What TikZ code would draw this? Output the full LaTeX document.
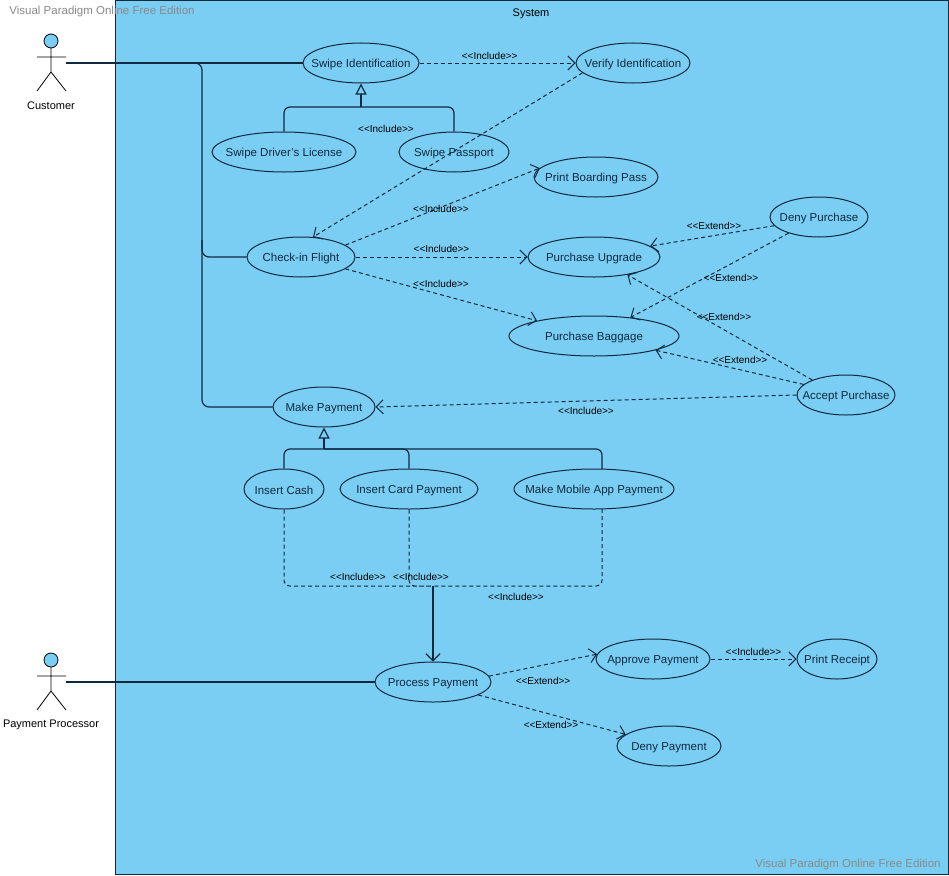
\documentclass[tikz,border=0pt]{standalone}
\usepackage{fontspec}
\setmainfont{Liberation Sans}
\usetikzlibrary{arrows.meta,shapes.geometric}
\definecolor{sysblue}{HTML}{7ACDF3}
\definecolor{ln}{HTML}{0F2A40}
\definecolor{wm}{HTML}{8A8A8A}
\newcommand{\inc}{<{}<Include>{}>}
\newcommand{\ext}{<{}<Extend>{}>}
\begin{document}
\begin{tikzpicture}[x=1pt,y=-1pt,
  uc/.style={draw=ln,ellipse,line width=1pt,inner sep=0pt,minimum height=40,label={[font=\fontsize{11.5}{13}\selectfont,text=ln,yshift=-1.5pt]center:#1}},
  dep/.style={draw=ln,line width=1pt,dash pattern=on 4pt off 3pt,-{Straight Barb[length=7pt,width=14pt]}},
  lbl/.style={font=\fontsize{10}{11}\selectfont,text=black,inner sep=0pt},
  assoc/.style={draw=ln,line width=1.2pt},
  actor/.style={draw=black,line width=0.8pt}]
\useasboundingbox (0,0) rectangle (949,875);
\fill[white] (0,0) rectangle (949,875);
\draw[fill=sysblue,draw=ln,line width=1pt] (115.5,0.5) rectangle (948,874);
\node[font=\fontsize{11}{13}\selectfont] (sys) at (531,14) {System};
\node[font=\fontsize{11.5}{13}\selectfont,text=wm] (wm1) at (102,12) {Visual Paradigm Online Free Edition};
\node[font=\fontsize{11.5}{13}\selectfont,text=wm] (wm2) at (848,865) {Visual Paradigm Online Free Edition};
% actors
\foreach \n/\y/\t in {cu/41/Customer,pa/660/Payment Processor}{
  \draw[actor,fill=sysblue] (51,\y) circle (7);
  \draw[actor] (51,\y+7) -- (51,\y+31) (37,\y+16) -- (66,\y+16) (37,\y+50) -- (51,\y+31) -- (66,\y+50);
  \node[font=\fontsize{11}{13}\selectfont] (\n) at (51,\y+65) {\t};
}
\coordinate (cuh) at (66,63);
\coordinate (pah) at (66,682);
% use cases
\node[uc=Swipe Identification,minimum width=116] (si) at (361,63) {};
\node[uc=Verify Identification,minimum width=114] (vi) at (633,63) {};
\node[uc=Swipe Driver's License,minimum width=144] (dl) at (284,152) {};
\node[uc=Swipe Passport,minimum width=110] (sp) at (454,152) {};
\node[uc=Print Boarding Pass,minimum width=124] (pbp) at (596,177) {};
\node[uc=Check-in Flight,minimum width=108] (ci) at (301,257) {};
\node[uc=Purchase Upgrade,minimum width=132] (pu) at (594,257) {};
\node[uc=Deny Purchase,minimum width=98] (dp) at (819,217) {};
\node[uc=Purchase Baggage,minimum width=170] (pb) at (594,336) {};
\node[uc=Accept Purchase,minimum width=98] (ap) at (846,395) {};
\node[uc=Make Payment,minimum width=102] (mp) at (324,407) {};
\node[uc=Insert Cash,minimum width=80] (ic) at (284,489) {};
\node[uc=Insert Card Payment,minimum width=138] (icp) at (409,489) {};
\node[uc=Make Mobile App Payment,minimum width=160] (mm) at (594,489) {};
\node[uc=Process Payment,minimum width=116] (pp) at (433,682) {};
\node[uc=Approve Payment,minimum width=114] (apy) at (653,659) {};
\node[uc=Print Receipt,minimum width=80] (pr) at (837,659) {};
\node[uc=Deny Payment,minimum width=104] (dnp) at (669,746) {};
% associations
\draw[assoc] (cuh) -- (si.west);
\draw[assoc,rounded corners=7] (190,63) -| (202,407) -- (mp.west);
\draw[assoc,rounded corners=7] (202,240) |- (ci.west);
\draw[assoc] (pah) -- (pp.west);
% generalizations
\coordinate (g1) at (361,107);
\draw[assoc,rounded corners=6] (dl.north) |- (g1) -| (sp.north);
\draw[assoc,-{Triangle[open,length=11pt,width=11pt]}] (g1) -- (si.south);
\coordinate (g2) at (324,449);
\draw[assoc,rounded corners=6] (ic.north) |- (g2) -| (icp.north);
\draw[assoc,rounded corners=6] (g2) -| (602,469);
\draw[assoc,-{Triangle[open,length=11pt,width=11pt]}] (g2) -- (mp.south);
% includes / extends
\draw[dep] (si.east) -- node[lbl,above=3pt,pos=0.45]{\inc} (vi.west);
\draw[dep] (vi.191) -- (ci.59);
\node[lbl] (l2) at (386,129) {\inc};
\draw[dep] (ci.15) -- (pbp.171);
\node[lbl] (l3) at (441,209) {\inc};
\draw[dep] (ci.east) -- node[lbl,pos=0.5,above=4pt]{\inc} (pu.west);
\draw[dep] (ci.-15) -- (pb.165);
\node[lbl] (l5) at (441,284) {\inc};
\draw[dep] (dp.191) -- (pu.11);
\node[lbl] (l6) at (714,226) {\ext};
\draw[dep] (dp.208) -- (pb.27);
\node[lbl] (l7) at (731,278) {\ext};
\draw[dep] (ap.156) -- (pu.-28);
\node[lbl] (l8) at (724,317) {\ext};
\draw[dep] (ap.166) -- (pb.-13);
\node[lbl] (l9) at (740,360) {\ext};
\draw[dep] (ap.west) -- (mp.east);
\node[lbl] (l10) at (586,411) {\inc};
\coordinate (jn) at (433,586);
\draw[draw=ln,line width=1pt,dash pattern=on 4pt off 3pt,rounded corners=6] (ic.south) |- (jn) (icp.south) |- (jn) (602,509) |- (jn);
\draw[assoc,-{Straight Barb[length=7pt,width=14pt]}] (jn) -- (pp.north);
\node[lbl] (l11) at (358,577) {\inc};
\node[lbl] (l12) at (421,577) {\inc};
\node[lbl] (l13) at (516,597) {\inc};
\draw[dep] (pp.6) -- (apy.175);
\node[lbl] (l14) at (543,681) {\ext};
\draw[dep] (pp.-16) -- (dnp.165);
\node[lbl] (l15) at (551,725) {\ext};
\draw[dep] (apy.east) -- node[lbl,above=3pt]{\inc} (pr.west);
\end{tikzpicture}
\end{document}
